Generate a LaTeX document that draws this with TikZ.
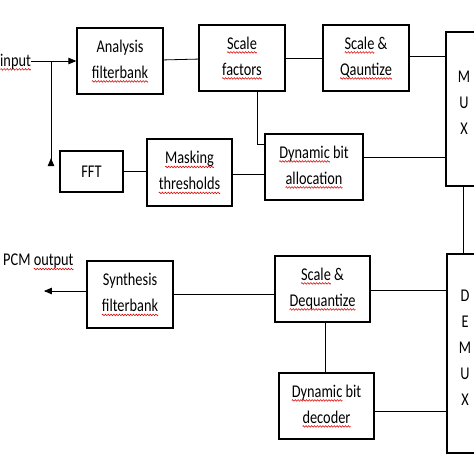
\documentclass[tikz,border=0pt]{standalone}
\usepackage{fontspec}
\setmainfont{Carlito}[FakeStretch=0.8]
\usetikzlibrary{arrows,shapes}
\newsavebox\wvbox
\newsavebox\wdbox
\newcommand\spck[1]{\sbox\wdbox{#1}\leavevmode\rlap{\raisebox{-4bp}{\hbox to \wd\wdbox{\xleaders\copy\wvbox\hfil}}}\usebox\wdbox}
\tikzset{blk/.style={draw,line width=1.4bp,align=center,inner sep=0pt,minimum width=86bp,minimum height=66bp,font=\fontsize{18}{26}\selectfont,
    execute at begin node={\setlength{\baselineskip}{26bp}}},
  wire/.style={line width=0.8bp},
  lbl/.style={inner sep=0pt,font=\fontsize{18}{20}\selectfont}}

\begin{document}
\sbox\wvbox{\begin{pgfpicture}\pgfsetlinewidth{0.55bp}\pgfsetstrokecolor{red!85!black}
  \pgfpathmoveto{\pgfpoint{0bp}{0bp}}\pgfpathsine{\pgfpoint{0.7bp}{0.8bp}}\pgfpathcosine{\pgfpoint{0.7bp}{-0.8bp}}
  \pgfpathsine{\pgfpoint{0.7bp}{-0.8bp}}\pgfpathcosine{\pgfpoint{0.7bp}{0.8bp}}\pgfusepath{stroke}
  \pgfresetboundingbox\pgfpathrectangle{\pgfpoint{0bp}{-0.8bp}}{\pgfpoint{2.8bp}{1.6bp}}\pgfusepath{use as bounding box}\end{pgfpicture}}
\begin{tikzpicture}
\useasboundingbox (0bp,0bp) rectangle (474bp,-474bp);

% encoder
\node (AFB) at (120bp,-61bp)[blk] {Analysis\\\spck{filterbank}};
\node (SCF) at (242bp,-58bp)[blk] {\spck{Scale}\\\spck{factors}};
\node (SQ) at (366bp,-58bp)[blk] {\spck{Scale} \&\\\spck{Qauntize}};
\node (MUX) at (464bp,-109bp)[blk,minimum width=36bp,minimum height=154bp,text depth=12bp] {M\\U\\X};
\node (FFT) at (91.5bp,-171.5bp)[blk,minimum width=63bp,minimum height=41bp] {FFT};
\node (MT) at (189.5bp,-172.5bp)[blk,minimum width=85bp,minimum height=67bp] {\spck{Masking}\\\spck{thresholds}};
\node (DBA) at (314bp,-167bp)[blk,minimum width=98bp] {\spck{Dynamic} bit\\\spck{allocation}};
\node (IN) at (0bp,-62bp)[lbl,anchor=west] {\spck{input}};
\coordinate (SPL) at (51bp,-61bp);
\coordinate (TIP) at (51bp,-166bp);

% decoder
\node (DMX) at (465bp,-353.5bp)[blk,minimum width=36bp,minimum height=199bp,text depth=11bp] {D\\E\\M\\U\\X};
\node (SDQ) at (322.5bp,-289bp)[blk,minimum width=95bp] {\spck{Scale} \&\\\spck{Dequantize}};
\node (DBD) at (326.5bp,-406bp)[blk,minimum width=95bp] {\spck{Dynamic} bit\\\spck{decoder}};
\node (SFB) at (130bp,-294.5bp)[blk,minimum height=67bp] {Synthesis\\\spck{filterbank}};
\node (OUT) at (3bp,-262bp)[lbl,anchor=west] {PCM \spck{output}};
\coordinate (END) at (44bp,-291bp);

\draw [wire,-triangle 45] (IN.east |- AFB.west) -- (AFB.west);
\draw [wire,-triangle 45 reversed] (SPL) -- (TIP);
\draw [wire] (AFB) -- (SCF);
\draw [wire] (SCF) -- (SQ);
\draw [wire] ([yshift=2bp]SQ.east) -- ([yshift=2bp]SQ.east -| MUX.west);
\draw [wire] ([xshift=15bp]SCF.south) |- ([yshift=23bp]DBA.west);
\draw [wire] (FFT) -- (FFT -| MT.west);
\draw [wire] ([yshift=-1.5bp]MT.east) -- ([yshift=-1.5bp]MT.east -| DBA.west);
\draw [wire] ([yshift=10bp]DBA.east) -- ([yshift=10bp]DBA.east -| MUX.west);
\draw [wire] ([xshift=-1bp]MUX.south) -- ([xshift=-2bp]DMX.north);
\draw [wire] ([yshift=-1bp]SDQ.east) -- ([yshift=-1bp]SDQ.east -| DMX.west);
\draw [wire] ([xshift=3bp]SDQ.south) -- ([xshift=3bp]SDQ.south |- DBD.north);
\draw [wire] ([yshift=-5bp]DBD.east) -- ([yshift=-5bp]DBD.east -| DMX.west);
\draw [wire] (SFB.east) -- (SFB.east -| SDQ.west);
\draw [wire,-triangle 45] ([yshift=3.5bp]SFB.west) -- (END);
\end{tikzpicture}
\end{document}
